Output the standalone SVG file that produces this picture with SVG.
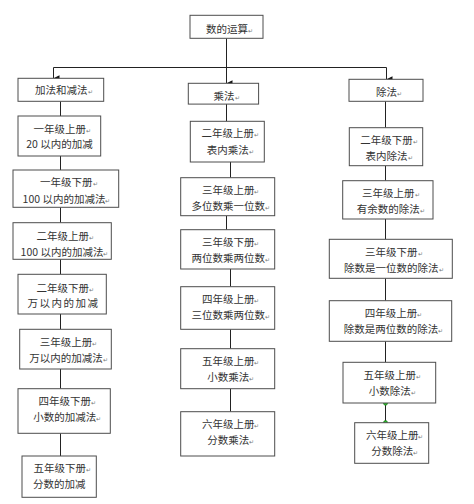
<svg xmlns="http://www.w3.org/2000/svg" width="474" height="504" viewBox="0 0 474 504">
<style>
.box{fill:#fff;stroke:#4d4d4d;stroke-width:1}
.t{font-family:"Noto Sans CJK SC","Noto Sans",sans-serif;font-size:10.5px;fill:#333;text-anchor:middle}
.m{font-size:6px;fill:#777}
.c{fill:none;stroke:#222;stroke-width:1}
.g{fill:#2db82d;stroke:#1a7a1a;stroke-width:0.6}
</style>
<defs>
<marker id="ar" markerUnits="userSpaceOnUse" markerWidth="6" markerHeight="6" refX="2.5" refY="5" orient="auto-start-reverse" viewBox="0 0 5 5">
<path d="M0,0 L5,0 L2.5,5 Z" fill="#111"/>
</marker>
</defs>
<rect width="474" height="504" fill="#fff"/>
<g id="connectors">
<path class="c" d="M226.5,38.3 V83.3" marker-end="url(#ar)"/>
<path class="c" d="M53.5,67.5 H386.5"/>
<path class="c" d="M53.5,67.5 V78.3" marker-end="url(#ar)"/>
<path class="c" d="M386.5,67.5 V79.3" marker-end="url(#ar)"/>
<path class="c" d="M60.5,101.3 V116 M60.5,156 V170 M60.5,207.3 V222.7 M60.5,259.3 V274.3 M60.5,314 V329.3 M60.5,369 V388.7 M60.5,433.3 V456"/>
<path class="c" d="M226.5,104 V121.3 M230.5,162 V177.7 M226.5,215.7 V229.7 M230.5,269 V286.7 M230.5,329.3 V348.7 M230.5,388.7 V411.7"/>
<path class="c" d="M385.5,101.3 V127.7 M385.5,165.7 V180.7 M385.5,219 V239.3 M385.5,278.3 V300.7 M385.5,341.3 V362.3 M385.5,403 V422.7"/>
<circle class="g" cx="385.5" cy="403.3" r="2"/>
<circle class="g" cx="385.5" cy="422.5" r="2"/>
</g>
<g id="n-root"><rect class="box" x="190" y="15.3" width="73" height="23"/><text class="t" x="229.5" y="33">数的运算<tspan class="m">↵</tspan></text></g>
<g id="n-add"><rect class="box" x="18" y="78.3" width="85.7" height="23"/><text class="t" x="63.8" y="93.8">加法和减法<tspan class="m">↵</tspan></text></g>
<g id="n-mul"><rect class="box" x="188.3" y="83.3" width="70.3" height="20.8"/><text class="t" x="226.5" y="99.5">乘法<tspan class="m">↵</tspan></text></g>
<g id="n-div"><rect class="box" x="349" y="79.3" width="74" height="22"/><text class="t" x="389" y="95.8">除法<tspan class="m">↵</tspan></text></g>

<g id="n-l1"><rect class="box" x="18" y="116" width="82.7" height="40"/><text class="t" x="62.3" y="132.5">一年级上册<tspan class="m">↵</tspan></text><text class="t" x="59.5" y="148">20 以内的加减</text></g>
<g id="n-l2"><rect class="box" x="13" y="170" width="105.7" height="37.3"/><text class="t" x="68.8" y="185.5">一年级下册<tspan class="m">↵</tspan></text><text class="t" x="66.5" y="202.5">100 以内的加减法<tspan class="m">↵</tspan></text></g>
<g id="n-l3"><rect class="box" x="13" y="222.7" width="98.3" height="36.6"/><text class="t" x="65.2" y="239.8">二年级上册<tspan class="m">↵</tspan></text><text class="t" x="64.5" y="255.5">100 以内的加减法<tspan class="m">↵</tspan></text></g>
<g id="n-l4"><rect class="box" x="18" y="274.3" width="88.3" height="39.7"/><text class="t" x="65.2" y="292">二年级下册<tspan class="m">↵</tspan></text><text class="t" x="63.5" y="306.5" letter-spacing="1.5">万以内的加减</text></g>
<g id="n-l5"><rect class="box" x="19.7" y="329.3" width="91.6" height="39.7"/><text class="t" x="68.5" y="345.5">三年级上册<tspan class="m">↵</tspan></text><text class="t" x="68.5" y="362">万以内的加减法<tspan class="m">↵</tspan></text></g>
<g id="n-l6"><rect class="box" x="18" y="388.7" width="92.3" height="44.6"/><text class="t" x="67.2" y="404.8">四年级下册<tspan class="m">↵</tspan></text><text class="t" x="67.2" y="420.5">小数的加减法<tspan class="m">↵</tspan></text></g>
<g id="n-l7"><rect class="box" x="22" y="456" width="74.3" height="41.3"/><text class="t" x="62.2" y="472.2">五年级下册<tspan class="m">↵</tspan></text><text class="t" x="59.2" y="488.2">分数的加减</text></g>

<g id="n-m1"><rect class="box" x="190.3" y="121.3" width="74" height="40.7"/><text class="t" x="230.3" y="137.2">二年级上册<tspan class="m">↵</tspan></text><text class="t" x="230.3" y="153.5">表内乘法<tspan class="m">↵</tspan></text></g>
<g id="n-m2"><rect class="box" x="180.7" y="177.7" width="94" height="38"/><text class="t" x="230.7" y="193.8">三年级上册<tspan class="m">↵</tspan></text><text class="t" x="230.7" y="209.8">多位数乘一位数<tspan class="m">↵</tspan></text></g>
<g id="n-m3"><rect class="box" x="180.7" y="229.7" width="94" height="39.3"/><text class="t" x="230.7" y="245.8">三年级下册<tspan class="m">↵</tspan></text><text class="t" x="230.7" y="262">两位数乘两位数<tspan class="m">↵</tspan></text></g>
<g id="n-m4"><rect class="box" x="180.7" y="286.7" width="94" height="42.6"/><text class="t" x="230.7" y="302.8">四年级上册<tspan class="m">↵</tspan></text><text class="t" x="230.7" y="318.8">三位数乘两位数<tspan class="m">↵</tspan></text></g>
<g id="n-m5"><rect class="box" x="180.7" y="348.7" width="94" height="40"/><text class="t" x="230.7" y="364.8">五年级上册<tspan class="m">↵</tspan></text><text class="t" x="230.7" y="381">小数乘法<tspan class="m">↵</tspan></text></g>
<g id="n-m6"><rect class="box" x="180.7" y="411.7" width="94" height="44.3"/><text class="t" x="230.7" y="428">六年级上册<tspan class="m">↵</tspan></text><text class="t" x="230.7" y="444">分数乘法<tspan class="m">↵</tspan></text></g>

<g id="n-r1"><rect class="box" x="349.3" y="127.7" width="73.4" height="38"/><text class="t" x="389" y="144">二年级下册<tspan class="m">↵</tspan></text><text class="t" x="389" y="160">表内除法<tspan class="m">↵</tspan></text></g>
<g id="n-r2"><rect class="box" x="342.7" y="180.7" width="90.3" height="38.3"/><text class="t" x="390.8" y="197">三年级上册<tspan class="m">↵</tspan></text><text class="t" x="390.8" y="213">有余数的除法<tspan class="m">↵</tspan></text></g>
<g id="n-r3"><rect class="box" x="329.3" y="239.3" width="123" height="39"/><text class="t" x="393.8" y="255.6">三年级下册<tspan class="m">↵</tspan></text><text class="t" x="393.8" y="271.6">除数是一位数的除法<tspan class="m">↵</tspan></text></g>
<g id="n-r4"><rect class="box" x="329.3" y="300.7" width="122.4" height="40.6"/><text class="t" x="393.5" y="316.8">四年级上册<tspan class="m">↵</tspan></text><text class="t" x="393.5" y="332.8">除数是两位数的除法<tspan class="m">↵</tspan></text></g>
<g id="n-r5"><rect class="box" x="343" y="362.3" width="92.7" height="40.7"/><text class="t" x="392.3" y="378.5">五年级上册<tspan class="m">↵</tspan></text><text class="t" x="392.3" y="394.8">小数除法<tspan class="m">↵</tspan></text></g>
<g id="n-r6"><rect class="box" x="354.7" y="422.7" width="74" height="40.6"/><text class="t" x="394.7" y="439">六年级上册<tspan class="m">↵</tspan></text><text class="t" x="394.7" y="455">分数除法<tspan class="m">↵</tspan></text></g>
</svg>
